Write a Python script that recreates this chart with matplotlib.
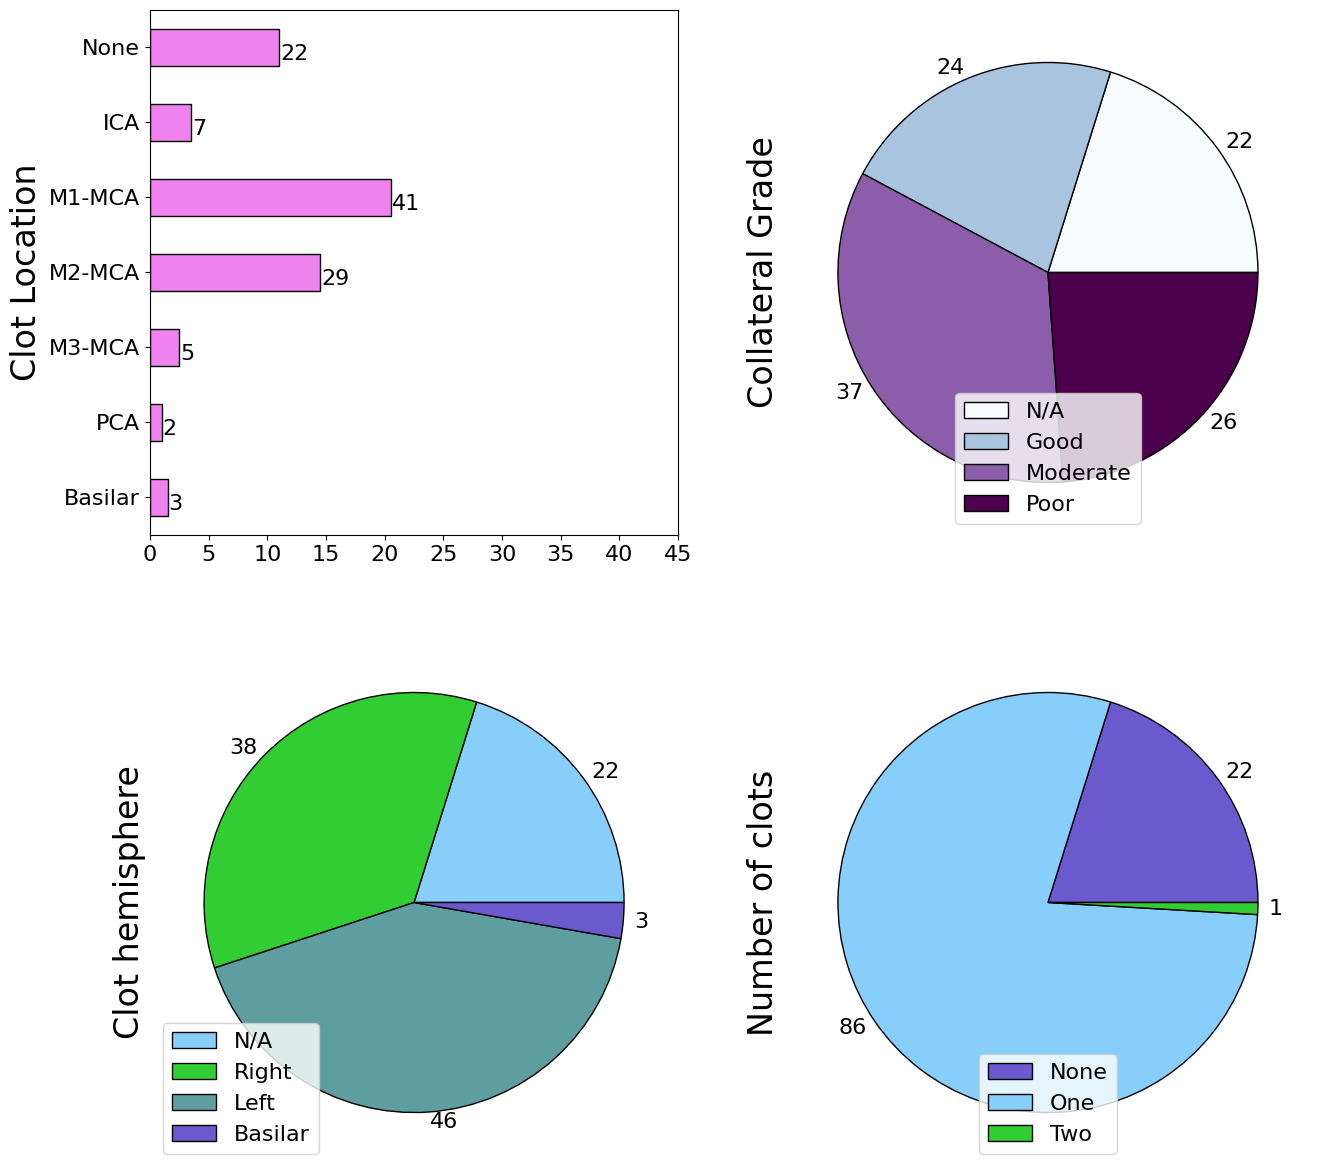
import matplotlib
matplotlib.use("Agg")
import matplotlib.pyplot as plt
import numpy as np

# Clot location counts (bars drawn at half length, labelled with the count)
loc_names = ["None", "ICA", "M1-MCA", "M2-MCA", "M3-MCA", "PCA", "Basilar"]
loc_counts = [22, 7, 41, 29, 5, 2, 3]

collat_names = ["N/A", "Good", "Moderate", "Poor"]
collat_counts = [22, 24, 37, 26]

hemi_names = ["N/A", "Right", "Left", "Basilar"]
hemi_counts = [22, 38, 46, 3]
hemi_colors = ["lightskyblue", "limegreen", "cadetblue", "slateblue"]

nclot_names = ["None", "One", "Two"]
nclot_counts = [22, 86, 1]
nclot_colors = ["slateblue", "lightskyblue", "limegreen"]

fig, axes = plt.subplots(2, 2, figsize=(13.2, 11.75), dpi=100)
fig.subplots_adjust(left=0.1136, right=0.994, top=0.9915, bottom=0.0085,
                    wspace=0.2, hspace=0.2)

# --- bar chart
ax = axes[0, 0]
ypos = np.arange(len(loc_names))[::-1]
widths = [c / 2 for c in loc_counts]
ax.barh(ypos, widths, height=0.5, color="violet", edgecolor="black")
for y, w, c in zip(ypos, widths, loc_counts):
    ax.text(w + 0.1, y - 0.09, str(c), va="center", ha="left", fontsize=16)
ax.set_yticks(ypos)
ax.set_yticklabels(loc_names, fontsize=16)
ax.set_xlim(0, 45)
ax.set_xticks(range(0, 46, 5))
ax.tick_params(axis="x", labelsize=16)
ax.set_ylim(-0.5, len(loc_names) - 0.5)
ax.set_ylabel("Clot Location", fontsize=24)


def pie(ax, counts, names, colors, ylabel, legend_loc):
    wedges, _ = ax.pie(counts, labels=[str(c) for c in counts], colors=colors,
                       labeldistance=1.05,
                       wedgeprops=dict(edgecolor="black", linewidth=1),
                       textprops=dict(fontsize=16))
    ax.set_ylabel(ylabel, fontsize=24)
    ax.legend(wedges, names, loc=legend_loc, fontsize=16)


pie(axes[0, 1], collat_counts, collat_names,
    plt.cm.BuPu(np.linspace(0, 1, 4)), "Collateral Grade", "lower center")
pie(axes[1, 0], hemi_counts, hemi_names, hemi_colors,
    "Clot hemisphere", "lower left")
pie(axes[1, 1], nclot_counts, nclot_names, nclot_colors,
    "Number of clots", "lower center")

fig.savefig("out.png", dpi=100)
